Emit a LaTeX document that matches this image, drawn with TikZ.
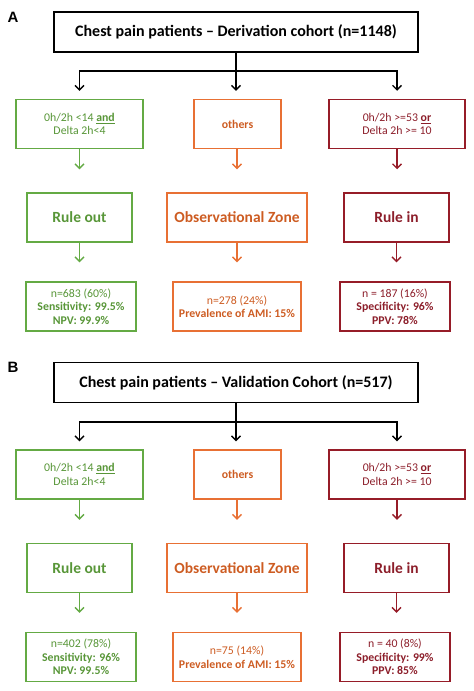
\documentclass[tikz,border=0pt]{standalone}
\usepackage{fontspec}
\setmainfont{Carlito}
\newfontfamily\panelfont{Liberation Sans}
\usetikzlibrary{arrows.meta,positioning}
\definecolor{rogreen}{RGB}{100,170,68}
\definecolor{rogreentxt}{RGB}{88,150,56}
\definecolor{obsorange}{RGB}{232,112,52}
\definecolor{obsorangetxt}{RGB}{205,92,34}
\definecolor{rired}{RGB}{150,28,40}
\definecolor{riredtxt}{RGB}{140,30,42}

\begin{document}
\begin{tikzpicture}[x=1pt,y=-1pt,
    panel/.style={font=\panelfont\bfseries\fontsize{15}{17}\selectfont},
    titlebox/.style={draw,line width=1.5pt,minimum width=364pt,minimum height=40pt,
                     font=\bfseries\fontsize{16}{19}\selectfont},
    box/.style={draw,line width=1.5pt,minimum height=49pt,align=center,inner sep=2pt,
                font=\fontsize{11.8}{13.5}\selectfont},
    big/.style={font=\bfseries\fontsize{15.5}{18}\selectfont},
    gbox/.style={box,draw=rogreen,text=rogreentxt},
    obox/.style={box,draw=obsorange,text=obsorangetxt},
    rbox/.style={box,draw=rired,text=riredtxt},
    arr/.style={line width=1.3pt,-{Straight Barb[length=4.5pt,width=9pt]}}]
  \useasboundingbox (0,0) rectangle (474,691);

  % panel A: derivation cohort
  \node[panel] (labA) at (13,17) {A};
  \node[titlebox] (tA) at (236,32) {Chest pain patients -- Derivation cohort (n=1148)};
  \coordinate (jA) at (236,71);
  \node[gbox,minimum width=127pt] (g1A) at (79.5,124) {0h/2h <14 \underline{\textbf{and}}\\Delta 2h<4};
  \node[obox,minimum width=87pt] (o1A) at (237.5,124) {\textbf{others}};
  \node[rbox,minimum width=136pt] (r1A) at (397,124) {0h/2h >=53 \underline{\textbf{or}}\\Delta 2h >= 10};
  \node[gbox,big,minimum width=105pt] (g2A) at (79.5,217.5) {Rule out};
  \node[obox,big,minimum width=140pt] (o2A) at (237,217.5) {Observational Zone};
  \node[rbox,big,minimum width=105pt] (r2A) at (396.5,217.5) {Rule in};
  \node[gbox,minimum width=110pt] (g3A) at (81,306.5)
        {n=683 (60\%)\\\textbf{Sensitivity: 99.5\%}\\\textbf{NPV: 99.9\%}};
  \node[obox,minimum width=128pt] (o3A) at (237,306.5)
        {n=278 (24\%)\\\textbf{Prevalence of AMI: 15\%}};
  \node[rbox,minimum width=110pt] (r3A) at (395,306.5)
        {n = 187 (16\%)\\\textbf{Specificity: 96\%}\\\textbf{PPV: 78\%}};
  \draw[line width=1.3pt] (tA.south) -- (jA);
  \draw[line width=1.3pt] (g1A.north |- jA) -- (r1A.north |- jA);
  \draw[arr,shorten >=8pt] (jA) -| (g1A);
  \draw[arr,shorten >=8pt] (jA) -- (o1A.north -| jA);
  \draw[arr,shorten >=8pt] (jA) -| (r1A);
  \draw[arr,rogreen,shorten >=23pt] (g1A) -- (g2A);
  \draw[arr,obsorange,shorten >=23pt] (o1A.south -| o2A) -- (o2A);
  \draw[arr,rired,shorten >=23pt] (r1A) -- (r1A |- r2A.north);
  \draw[arr,rogreen,shorten >=19pt] (g2A) -- (g2A |- g3A.north);
  \draw[arr,obsorange,shorten >=19pt] (o2A) -- (o3A);
  \draw[arr,rired,shorten >=19pt] (r2A) -- (r2A |- r3A.north);

  % panel B: validation cohort
  \node[panel] (labB) at (13,367) {B};
  \node[titlebox] (tB) at (236,382.5) {Chest pain patients -- Validation Cohort (n=517)};
  \coordinate (jB) at (236,422);
  \node[gbox,minimum width=127pt] (g1B) at (79.5,474.5) {0h/2h <14 \underline{\textbf{and}}\\Delta 2h<4};
  \node[obox,minimum width=87pt] (o1B) at (237.5,474.5) {\textbf{others}};
  \node[rbox,minimum width=136pt] (r1B) at (397,474.5) {0h/2h >=53 \underline{\textbf{or}}\\Delta 2h >= 10};
  \node[gbox,big,minimum width=105pt] (g2B) at (79.5,568) {Rule out};
  \node[obox,big,minimum width=140pt] (o2B) at (237,568) {Observational Zone};
  \node[rbox,big,minimum width=105pt] (r2B) at (396.5,568) {Rule in};
  \node[gbox,minimum width=110pt] (g3B) at (81,657)
        {n=402 (78\%)\\\textbf{Sensitivity: 96\%}\\\textbf{NPV: 99.5\%}};
  \node[obox,minimum width=128pt] (o3B) at (237,657)
        {n=75 (14\%)\\\textbf{Prevalence of AMI: 15\%}};
  \node[rbox,minimum width=110pt] (r3B) at (395,657)
        {n = 40 (8\%)\\\textbf{Specificity: 99\%}\\\textbf{PPV: 85\%}};
  \draw[line width=1.3pt] (tB.south) -- (jB);
  \draw[line width=1.3pt] (g1B.north |- jB) -- (r1B.north |- jB);
  \draw[arr,shorten >=8pt] (jB) -| (g1B);
  \draw[arr,shorten >=8pt] (jB) -- (o1B.north -| jB);
  \draw[arr,shorten >=8pt] (jB) -| (r1B);
  \draw[arr,rogreen,shorten >=23pt] (g1B) -- (g2B);
  \draw[arr,obsorange,shorten >=23pt] (o1B.south -| o2B) -- (o2B);
  \draw[arr,rired,shorten >=23pt] (r1B) -- (r1B |- r2B.north);
  \draw[arr,rogreen,shorten >=19pt] (g2B) -- (g2B |- g3B.north);
  \draw[arr,obsorange,shorten >=19pt] (o2B) -- (o3B);
  \draw[arr,rired,shorten >=19pt] (r2B) -- (r2B |- r3B.north);
\end{tikzpicture}
\end{document}
